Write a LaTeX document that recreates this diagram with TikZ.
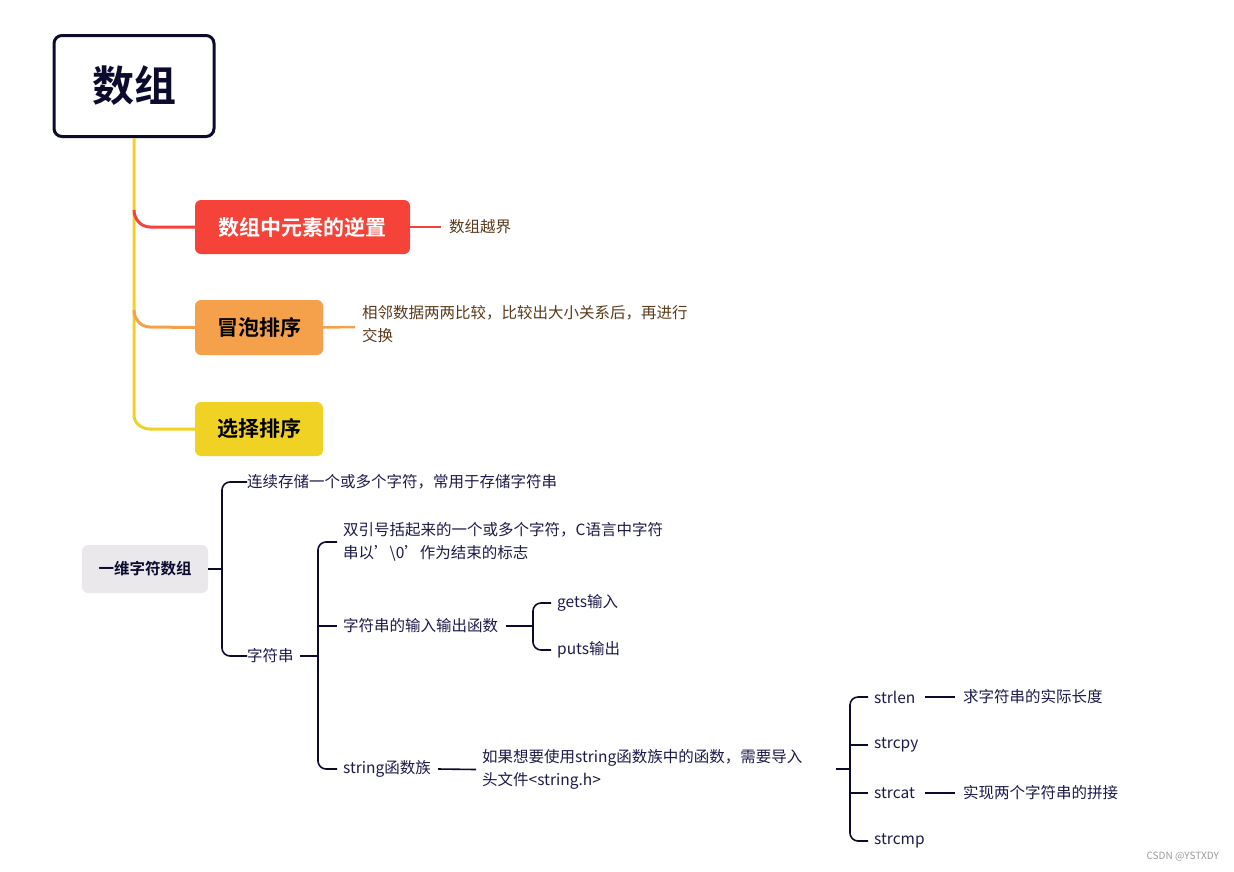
\documentclass[tikz,border=0pt]{standalone}
\usepackage{fontspec}
\setmainfont{Noto Sans CJK SC}
\newfontfamily\cjkb{Noto Sans CJK SC Bold}
\definecolor{navy}{HTML}{0B0B2E}
\definecolor{txt}{HTML}{1C1A4A}
\definecolor{rd}{HTML}{F5433A}
\definecolor{og}{HTML}{F5A04A}
\definecolor{yl}{HTML}{F0D225}
\definecolor{gr}{HTML}{EBE8EC}
\definecolor{br}{HTML}{5A3A1A}
\begin{document}
\begin{tikzpicture}[x=1pt,y=-1pt,
  lbl/.style={anchor=west,inner sep=0pt,text=txt,font=\fontsize{15.5}{23}\selectfont,align=left},
  box/.style={rounded corners=6pt,inner sep=0pt,font=\cjkb\fontsize{21}{24}\selectfont},
  ln/.style={draw=navy,line width=1.6pt},
  br/.style={ln,rounded corners=8pt}]
\useasboundingbox (0,0) rectangle (1234,871);
\node[draw=navy,line width=3pt,rounded corners=8pt,minimum width=160pt,minimum height=101pt,font=\cjkb\fontsize{42}{46}\selectfont,text=navy] (root) at (134,86) {数组};
\node[box,fill=rd,text=white,minimum width=215pt,minimum height=54pt] (b1) at (302.5,227) {数组中元素的逆置};
\node[box,fill=og,text=black,minimum width=128pt,minimum height=55pt] (b2) at (259,327.5) {冒泡排序};
\node[box,fill=yl,text=black,minimum width=128pt,minimum height=54pt] (b3) at (259,429) {选择排序};
\draw[yl,line width=3pt] (root.south) -- (134,415) to[out=-90,in=180] (150,429) -- (b3.west);
\draw[rd,line width=3pt] (134,210) to[out=-90,in=180] (150,227) -- (b1.west);
\draw[og,line width=3pt] (134,310) to[out=-90,in=180] (150,327) -- (b2.west);
\node[lbl,text=br] (t1) at (449,227) {数组越界};
\draw[rd,line width=2.5pt] (b1.east) -- ([xshift=-8pt]t1.west);
\node[lbl,text=br,anchor=north west] (t2) at (362,305) {相邻数据两两比较，比较出大小关系后，再进行\\交换};
\draw[og,line width=2.5pt] (b2.east) -- (355,327);
% lower
\node[fill=gr,rounded corners=6pt,minimum width=126pt,minimum height=48pt,inner sep=0pt,font=\cjkb\fontsize{15.5}{18}\selectfont,text=navy] (g) at (145,569) {一维字符数组};
\node[lbl] (c1) at (247,482) {连续存储一个或多个字符，常用于存储字符串};
\node[lbl] (c2) at (247,656) {字符串};
\draw[ln] (g.east) -- (222,569);
\draw[br] (c1.west) -- (222,482) -- (222,656) -- (c2.west);
\node[lbl,anchor=west] (d1) at (343,542) {双引号括起来的一个或多个字符，C语言中字符\\串以'\textbackslash 0'作为结束的标志};
\node[lbl] (d2) at (343,626) {字符串的输入输出函数};
\node[lbl] (d3) at (343,769) {string函数族};
\draw[ln] ([xshift=6pt]c2.east) -- (318,656);
\draw[br] ([xshift=-6pt]d1.west) -- (318,542) -- (318,769) -- ([xshift=-6pt]d3.west);
\draw[ln] (318,626) -- ([xshift=-6pt]d2.west);
\node[lbl] (e1) at (557,603) {gets输入};
\node[lbl] (e2) at (557,650) {puts输出};
\draw[ln] ([xshift=8pt]d2.east) -- (533,626);
\draw[br] ([xshift=-6pt]e1.west) -- (533,603) -- (533,650) -- ([xshift=-6pt]e2.west);
\node[lbl] (f) at (482,769.5) {如果想要使用string函数族中的函数，需要导入\\头文件<string.h>};
\draw[ln] ([xshift=7pt]d3.east) -- ([xshift=-6pt]f.west);
\node[lbl] (s1) at (874,697) {strlen};
\node[lbl] (s2) at (874,745) {strcpy};
\node[lbl] (s3) at (874,793) {strcat};
\node[lbl] (s4) at (874,841) {strcmp};
\draw[ln] (836,769) -- (850,769);
\draw[br] ([xshift=-6pt]s1.west) -- (850,697) -- (850,841) -- ([xshift=-6pt]s4.west);
\draw[ln] (850,745) -- ([xshift=-6pt]s2.west);
\draw[ln] (850,793) -- ([xshift=-6pt]s3.west);
\node[lbl] (u1) at (963,697) {求字符串的实际长度};
\node[lbl] (u2) at (963,793) {实现两个字符串的拼接};
\draw[ln] (925,697) -- ([xshift=-8pt]u1.west);
\draw[ln] (925,793) -- ([xshift=-8pt]u2.west);
\node[anchor=east,inner sep=0pt,text=gray!80,font=\fontsize{10}{12}\selectfont] (w) at (1219,857) {CSDN @YSTXDY};
\end{tikzpicture}
\end{document}
